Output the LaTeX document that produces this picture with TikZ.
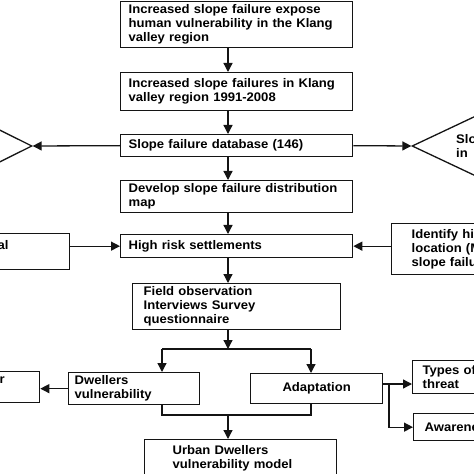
\documentclass[tikz,border=0pt]{standalone}
\usepackage{fontspec}
\setmainfont[WordSpace=2,FakeStretch=1.05]{Liberation Sans}
\usepackage{tikz}
\usetikzlibrary{arrows.meta}
\usetikzlibrary{shapes.geometric}
\usetikzlibrary{positioning,calc}
\definecolor{lineblack}{RGB}{20,20,20}

\begin{document}
\begin{tikzpicture}[x=1bp,y=-1bp,
    font=\bfseries\fontsize{12.5}{14}\selectfont,
    blk/.style={draw=lineblack,line width=1.3bp,anchor=north west,align=left,
      inner ysep=0pt,inner xsep=8bp,text width=216bp,minimum width=232bp},
    arr/.style={draw=lineblack,line width=1.3bp,-{Triangle[length=9bp,width=9bp]}},
    lnk/.style={draw=lineblack,line width=1.3bp}]
    \useasboundingbox (0,0) rectangle (474,474);
    \clip (0,0) rectangle (474,474);
    % main column
    \node[blk,minimum height=46bp] (incr) at (120,1)
      {Increased slope failure expose\\human vulnerability in the Klang\\valley region};
    \node[blk,minimum height=38bp] (incrkl) at (120,72)
      {Increased slope failures in Klang\\valley region 1991-2008};
    \node[blk,minimum height=22bp] (sfdb) at (120,134)
      {Slope failure database (146)};
    \node[blk,minimum height=32bp] (distmap) at (120,180)
      {Develop slope failure distribution\\map};
    \node[blk,minimum height=23bp] (hrisk) at (120,234)
      {High risk settlements};
    \node[blk,minimum height=46bp,minimum width=208bp,inner xsep=11bp,text width=186bp]
      (fieldobs) at (132,283) {Field observation\\Interviews Survey\\questionnaire};
    \node[blk,minimum height=32bp,minimum width=131bp,inner xsep=6bp,text width=119bp]
      (dwvul) at (68,372) {Dwellers\\vulnerability};
    \node[blk,minimum height=30bp,minimum width=132bp,inner xsep=6bp,text width=120bp,
      align=center] (adapt) at (250,373) {Adaptation};
    \node[blk,minimum height=37bp,minimum width=192bp,inner xsep=28bp,text width=136bp]
      (udvm) at (144,439) {Urban Dwellers\\vulnerability model};
    % side boxes, cut by the frame
    \node[draw=lineblack,line width=1.3bp,shape=diamond,minimum width=220bp,
      minimum height=110bp] (ldia) at (-78,146) {};
    \node[draw=lineblack,line width=1.3bp,shape=diamond,minimum width=220bp,
      minimum height=104bp] (rdia) at (522,146) {};
    \node[anchor=west,align=left,inner sep=0pt] (rdtxt) at (456,146) {Slo\\in};
    \node[blk,minimum height=36bp,minimum width=132bp,inner xsep=60bp,text width=12bp]
      (lhaz) at (-63,233) {al\\\mbox{}};
    \node[blk,minimum height=31bp,minimum width=70bp,inner xsep=30bp,text width=10bp]
      (ldw) at (-31,371) {r\\\mbox{}};
    \node[blk,minimum height=51bp,minimum width=120bp,inner xsep=20bp,text width=80bp]
      (ident) at (391,223) {Identify hi\\location (M\\slope failu};
    \node[blk,minimum height=33bp,minimum width=100bp,inner xsep=10bp,text width=80bp]
      (types) at (412,360) {Types of\\threat};
    \node[blk,minimum height=27bp,minimum width=100bp,inner xsep=11bp,text width=78bp]
      (aware) at (413,413) {Awarene};
    % connectors
    \coordinate (ax) at (228,0);
    \coordinate (lsplit) at (162,349);
    \coordinate (rsplit) at (311,349);
    \coordinate (ljoin) at (162,415);
    \coordinate (rjoin) at (311,415);
    \coordinate (tap) at (389,384);
    \draw[arr] (incr.south -| ax) -- (incrkl.north -| ax);
    \draw[arr] (incrkl.south -| ax) -- (sfdb.north -| ax);
    \draw[arr] (sfdb.west) -- (ldia.east);
    \draw[arr] (sfdb.east) -- (rdia.west);
    \draw[arr] (sfdb.south -| ax) -- (distmap.north -| ax);
    \draw[arr] (distmap.south -| ax) -- (hrisk.north -| ax);
    \draw[arr] (hrisk.west -| lhaz.east) -- (hrisk.west);
    \draw[arr] (hrisk.east -| ident.west) -- (hrisk.east);
    \draw[arr] (hrisk.south -| ax) -- (fieldobs.north -| ax);
    \draw[arr] (fieldobs.south -| ax) -- (lsplit -| ax);
    \draw[lnk] (lsplit) -- (rsplit);
    \draw[arr] (lsplit) -- (lsplit |- dwvul.north);
    \draw[arr] (rsplit) -- (rsplit |- adapt.north);
    \draw[arr] (dwvul.west) -- (dwvul.west -| ldw.east);
    \draw[lnk] (lsplit |- dwvul.south) -- (ljoin) -- (rjoin) -- (rsplit |- adapt.south);
    \draw[arr] (ljoin -| ax) -- (udvm.north -| ax);
    \draw[arr] (adapt.east |- tap) -- (types.west |- tap);
    \draw[arr] (tap) |- (aware.west);
\end{tikzpicture}
\end{document}
